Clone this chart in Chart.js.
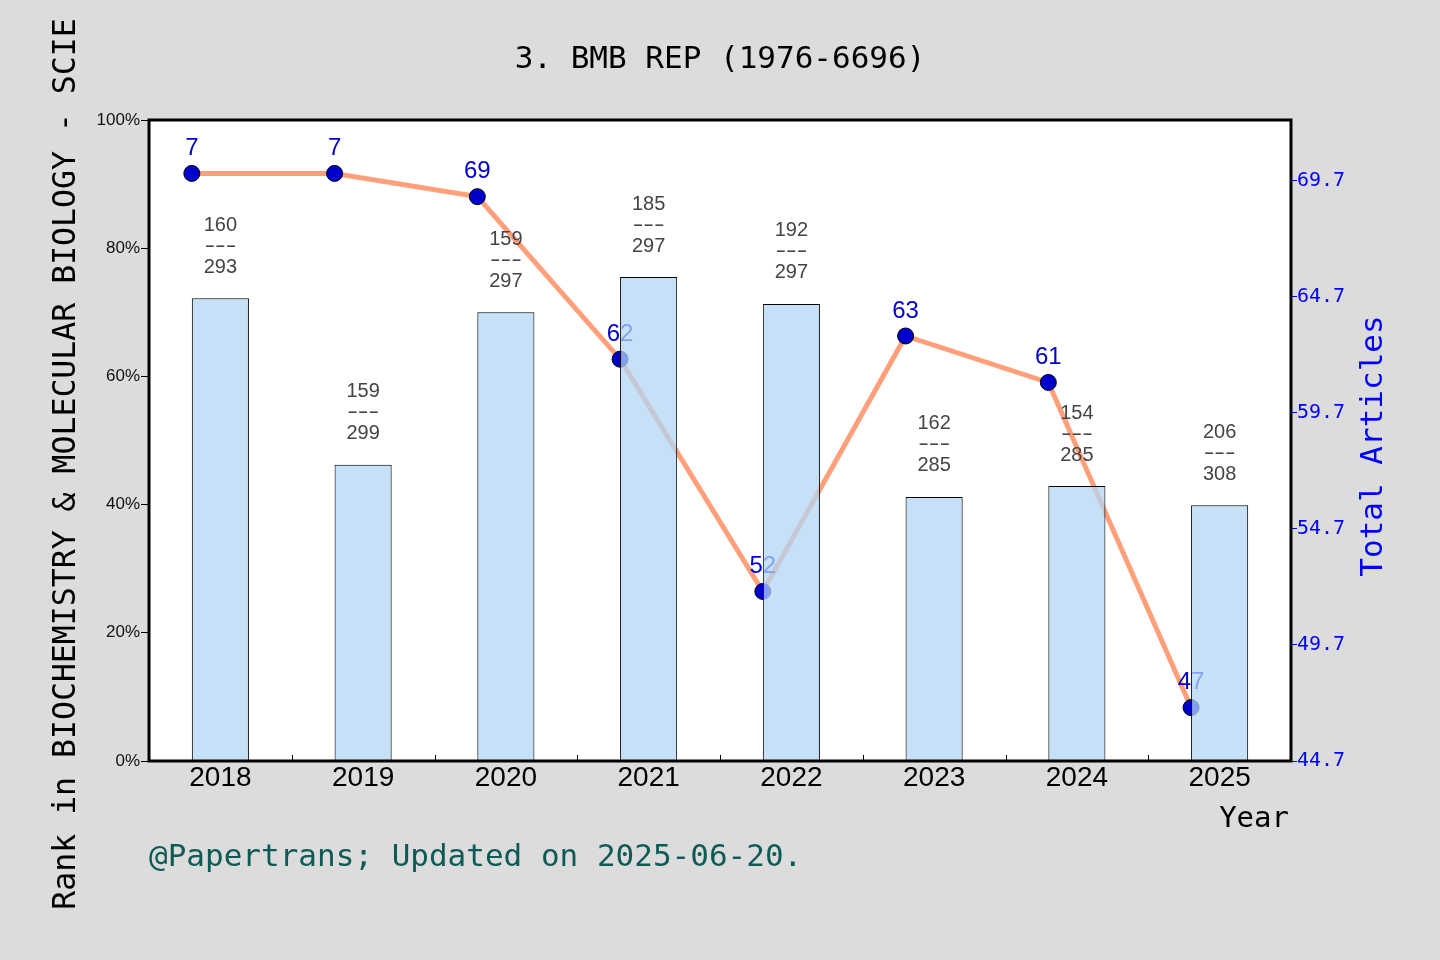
<!DOCTYPE html>
<html>
<head>
<meta charset="utf-8">
<script src="https://cdn.jsdelivr.net/npm/chart.js@4.4.1/dist/chart.umd.min.js"></script>
<style>
html,body{margin:0;padding:0;background:#DCDCDC;}
#wrap{width:1440px;height:960px;position:relative;}
</style>
</head>
<body>
<div id="wrap"><canvas id="c" width="1440" height="960"></canvas></div>
<script>
// ---- data ----
const years = ["2018","2019","2020","2021","2022","2023","2024","2025"];
const rankPercent = [72.2, 46.2, 70.0, 75.5, 71.3, 41.2, 42.9, 39.9];
const rankNumerator = ["160","159","159","185","192","162","154","206"];
const rankDenominator = ["293","299","297","297","297","285","285","308"];
const totalArticles = [70, 70, 69, 62, 52, 63, 61, 47];
const articleLabels = ["7","7","69","62","52","63","61","47"];
const leftTicks = [0, 20, 40, 60, 80, 100];
const rightTicks = [44.7, 49.7, 54.7, 59.7, 64.7, 69.7];
const titleText = "3. BMB REP (1976-6696)";
const leftTitle = "Rank in BIOCHEMISTRY & MOLECULAR BIOLOGY - SCIE";
const rightTitle = "Total Articles";
const xTitle = "Year";
const footerText = "@Papertrans; Updated on 2025-06-20.";

const MONO = '"DejaVu Sans Mono", monospace';
const SANS = '"Liberation Sans", Arial, sans-serif';

const deco = {
  id: 'deco',
  beforeDraw(chart) {
    const ctx = chart.ctx, a = chart.chartArea;
    ctx.save();
    ctx.fillStyle = '#DCDCDC';
    ctx.fillRect(0, 0, chart.width, chart.height);
    ctx.fillStyle = '#FFFFFF';
    ctx.fillRect(a.left, a.top, a.right - a.left, a.bottom - a.top);
    ctx.restore();
  },
  afterDatasetDraw(chart, args) {
    if (args.index !== 1) return;
    const ctx = chart.ctx;
    const meta = chart.getDatasetMeta(1);
    ctx.save();
    ctx.fillStyle = '#0000CD';
    ctx.font = '24px ' + SANS;
    ctx.textAlign = 'center';
    ctx.textBaseline = 'middle';
    meta.data.forEach((p, i) => {
      ctx.fillText(articleLabels[i], p.x, p.y - 25);
    });
    ctx.restore();
  },
  afterDatasetsDraw(chart) {
    const ctx = chart.ctx, a = chart.chartArea;
    const meta = chart.getDatasetMeta(0);
    ctx.save();
    // fraction labels
    ctx.fillStyle = '#444444';
    ctx.textAlign = 'center';
    ctx.textBaseline = 'middle';
    meta.data.forEach((b, i) => {
      ctx.font = '20px ' + SANS;
      ctx.fillText(rankNumerator[i], b.x, b.y - 73);
      ctx.fillText(rankDenominator[i], b.x, b.y - 31);
      ctx.save();
      ctx.translate(b.x, b.y - 52);
      ctx.scale(1.6, 1);
      ctx.fillText('---', 0, 0);
      ctx.restore();
    });
    // inner x ticks between categories
    const xs = chart.scales.x;
    ctx.strokeStyle = '#000';
    ctx.lineWidth = 1;
    for (let i = 0; i < years.length - 1; i++) {
      const x = Math.round((xs.getPixelForValue(i) + xs.getPixelForValue(i + 1)) / 2) + 0.5;
      ctx.beginPath();
      ctx.moveTo(x, a.bottom);
      ctx.lineTo(x, a.bottom - 6);
      ctx.stroke();
    }
    // frame
    ctx.lineWidth = 3;
    ctx.strokeStyle = '#000';
    ctx.strokeRect(a.left, a.top, a.right - a.left, a.bottom - a.top);
    // title
    ctx.fillStyle = '#000';
    ctx.font = '31px ' + MONO;
    ctx.textAlign = 'center';
    ctx.textBaseline = 'middle';
    ctx.fillText(titleText, 720, 60);
    // x title
    ctx.font = '29px ' + MONO;
    ctx.textAlign = 'right';
    ctx.fillText(xTitle, 1289, 819);
    // footer
    ctx.fillStyle = '#0E5A55';
    ctx.font = '31px ' + MONO;
    ctx.textAlign = 'left';
    ctx.fillText(footerText, 149, 858);
    // left title
    ctx.save();
    ctx.translate(67, 464);
    ctx.rotate(-Math.PI / 2);
    ctx.fillStyle = '#000';
    ctx.font = '31.5px ' + MONO;
    ctx.textAlign = 'center';
    ctx.fillText(leftTitle, 0, 0);
    ctx.restore();
    // right title
    ctx.save();
    ctx.translate(1374, 446);
    ctx.rotate(-Math.PI / 2);
    ctx.fillStyle = '#0000FF';
    ctx.font = '31px ' + MONO;
    ctx.textAlign = 'center';
    ctx.fillText(rightTitle, 0, 0);
    ctx.restore();
    ctx.restore();
  }
};

new Chart(document.getElementById('c'), {
  type: 'line',
  data: {
    labels: years,
    datasets: [
      {
        type: 'bar',
        data: rankPercent,
        xAxisID: 'x',
        yAxisID: 'y',
        backgroundColor: 'rgba(178,214,244,0.75)',
        borderColor: '#000000',
        borderWidth: 1,
        grouped: false,
        categoryPercentage: 1.0,
        barPercentage: 0.4,
        order: 1
      },
      {
        type: 'line',
        data: totalArticles.map((v, i) => ({x: i, y: v})),
        xAxisID: 'x2',
        yAxisID: 'y2',
        borderColor: '#FFA07A',
        borderWidth: 5,
        pointRadius: 8,
        pointBackgroundColor: '#0000CD',
        pointBorderColor: '#000000',
        pointBorderWidth: 1,
        tension: 0,
        order: 2
      }
    ]
  },
  options: {
    responsive: false,
    animation: false,
    devicePixelRatio: 1,
    layout: {padding: {top: 120, left: 0, right: 0, bottom: 0}},
    plugins: {legend: {display: false}, tooltip: {enabled: false}, title: {display: false}},
    scales: {
      x: {
        type: 'category',
        position: 'bottom',
        offset: true,
        grid: {display: false},
        border: {display: false},
        ticks: {font: {family: SANS, size: 28}, color: '#000', padding: -8, maxRotation: 0},
        afterFit(s) { s.height = 199; }
      },
      x2: {
        type: 'linear',
        display: false,
        offset: false,
        bounds: 'data',
        grace: 0,
        min: -0.3,
        max: 7.7
      },
      y: {
        position: 'left',
        min: 0,
        max: 100,
        afterBuildTicks(s) { s.ticks = leftTicks.map(v => ({value: v})); },
        grid: {drawOnChartArea: false, tickLength: 8, color: '#000'},
        border: {display: false},
        ticks: {font: {family: SANS, size: 17}, color: '#111', padding: 1, callback: v => v + '%'},
        afterFit(s) { s.width = 149; }
      },
      y2: {
        position: 'right',
        min: 44.7,
        max: 72.3,
        afterBuildTicks(s) { s.ticks = rightTicks.map(v => ({value: v})); },
        grid: {drawOnChartArea: false, tickLength: 6, color: '#0000FF'},
        border: {display: false},
        ticks: {font: {family: MONO, size: 20}, color: '#0000FF', padding: 0, callback: v => Number(v).toFixed(1)},
        afterFit(s) { s.width = 149; }
      }
    }
  },
  plugins: [deco]
});
</script>
</body>
</html>
